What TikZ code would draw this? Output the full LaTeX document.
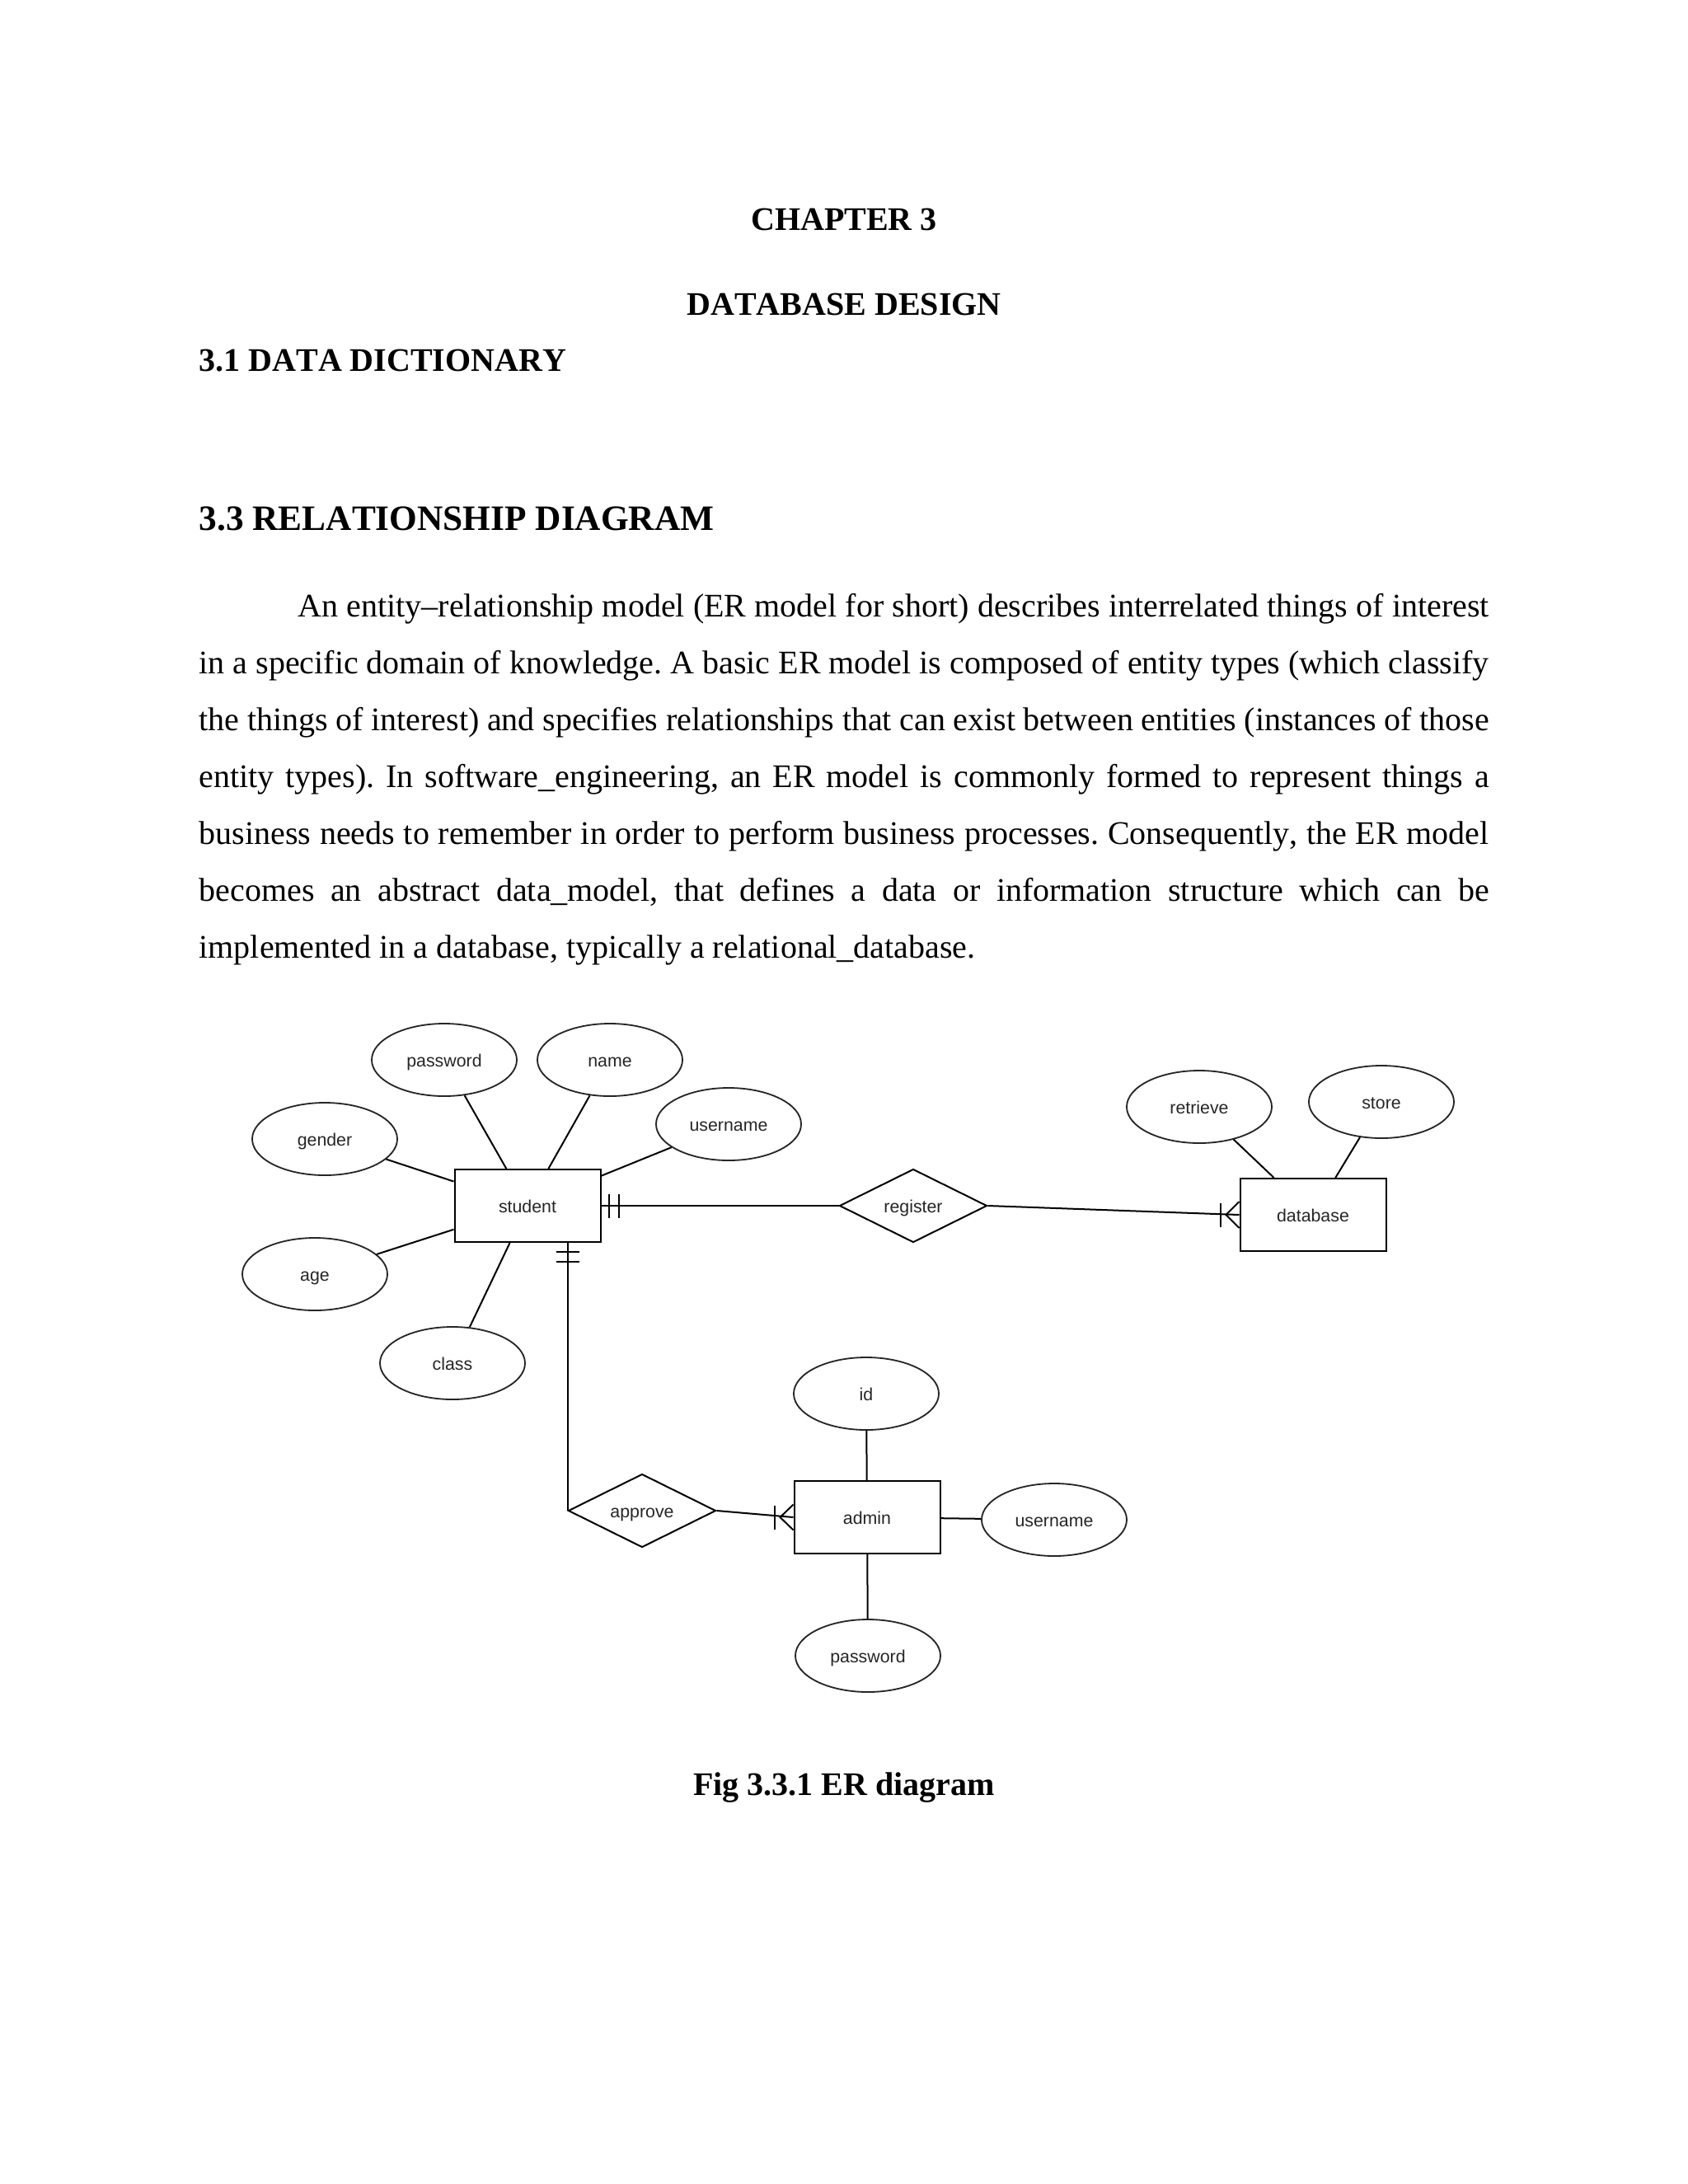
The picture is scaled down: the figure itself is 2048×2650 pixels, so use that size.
\documentclass[tikz,border=0pt]{standalone}
\usepackage{fontspec}
\setmainfont{Liberation Serif}[Kerning=Off]
\newfontfamily\diafont{Liberation Sans}
\usetikzlibrary{shapes.geometric,calc}
\frenchspacing
\begin{document}
\begin{tikzpicture}[x=0.3pt,y=-0.3pt,
  diatext/.style={font=\diafont\fontsize{6.4}{7.7}\selectfont,text=black!85,text height=5pt,text depth=0pt},
  attr/.style={ellipse,draw=black!85,line width=0.55pt,minimum width=52.8pt,minimum height=26.4pt,inner sep=0pt,diatext},
  ent/.style={rectangle,draw=black,line width=0.6pt,minimum width=53.1pt,minimum height=26.4pt,inner sep=0pt,diatext},
  rel/.style={diamond,aspect=2,draw=black,line width=0.6pt,minimum width=53.7pt,minimum height=26.7pt,inner sep=0pt,diatext},
  conn/.style={line width=0.6pt,draw=black},
  heading/.style={font=\bfseries\fontsize{12}{14}\selectfont,inner sep=0pt},
  body/.style={font=\fontsize{12}{14}\selectfont,inner sep=0pt,anchor=base west}
]
\useasboundingbox (0,0) rectangle (2048,2650);
\fill[white] (0,0) rectangle (2048,2650);

% headings
\node[heading,anchor=base] (ch) at (1024,279) {CHAPTER 3};
\node[heading,anchor=base] (dd) at (1024,382) {DATABASE DESIGN};
\node[heading,anchor=base west] (h31) at (241,450) {3.1 DATA DICTIONARY};
\node[heading,font=\bfseries\fontsize{13}{15}\selectfont,anchor=base west] (h33) at (241,643) {3.3 RELATIONSHIP DIAGRAM};

% body text
\node[body] (l1) at (361,748) {\makebox[433.5pt][s]{An entity–relationship model (ER model for short) describes interrelated things of interest}};
\node[body] (l2) at (241,817) {\makebox[469.5pt][s]{in a specific domain of knowledge. A basic ER model is composed of entity types (which classify}};
\node[body] (l3) at (241,886) {\makebox[469.5pt][s]{the things of interest) and specifies relationships that can exist between entities (instances of those}};
\node[body] (l4) at (241,955) {\makebox[469.5pt][s]{entity types). In software\_engineering, an ER model is commonly formed to represent things a}};
\node[body] (l5) at (241,1024) {\makebox[469.5pt][s]{business needs to remember in order to perform business processes. Consequently, the ER model}};
\node[body] (l6) at (241,1093) {\makebox[469.5pt][s]{becomes an abstract data\_model, that defines a data or information structure which can be}};
\node[body] (l7) at (241,1162) {implemented in a database, typically a relational\_database.};

% diagram nodes
\node[ent] (student) at (640,1463) {student};
\node[attr] (spass) at (539,1286) {password};
\node[attr] (sname) at (740,1286) {name};
\node[attr] (suser) at (884,1364) {username};
\node[attr] (gender) at (394,1382) {gender};
\node[attr] (age) at (382,1546) {age};
\node[attr] (class) at (549,1654) {class};
\node[rel] (register) at (1108,1463) {register};
\node[ent] (database) at (1593,1474) {database};
\node[attr] (retrieve) at (1455,1343) {retrieve};
\node[attr] (store) at (1676,1337) {store};
\node[ent] (admin) at (1052,1841) {admin};
\node[attr] (id) at (1051,1691) {id};
\node[rel] (approve) at (779,1833) {approve};
\node[attr] (auser) at (1279,1844) {username};
\node[attr] (apass) at (1053,2009) {password};

% attribute connectors
\draw[conn] (spass) -- (student);
\draw[conn] (sname) -- (student);
\draw[conn] (suser) -- (student);
\draw[conn] (gender) -- (student);
\draw[conn] (age) -- (student);
\draw[conn] (class) -- (student);
\draw[conn] (retrieve) -- (database);
\draw[conn] (store) -- (database);
\draw[conn] (id) -- (admin);
\draw[conn] (auser) -- (admin);
\draw[conn] (apass) -- (admin);

% relationships
\draw[conn] (student.east) -- (register.west);
\draw[conn] (register.east) -- (database.west);
\coordinate (sa) at (approve.west |- student.south);
\draw[conn] (sa) -- (approve.west);
\draw[conn] (approve.east) -- (admin.west);

% cardinality: student (one and only one) towards register
\draw[conn] ($(student.east)+(9,-14.5)$) -- ($(student.east)+(9,14.5)$);
\draw[conn] ($(student.east)+(21,-14.5)$) -- ($(student.east)+(21,14.5)$);
% student towards approve
\draw[conn] ($(sa)+(-14,11)$) -- ($(sa)+(14,11)$);
\draw[conn] ($(sa)+(-14,23)$) -- ($(sa)+(14,23)$);
% database: one or many
\draw[conn] ($(database.west)+(-22.5,-14.5)$) -- ($(database.west)+(-22.5,14.5)$);
\draw[conn] ($(database.west)+(0,-16)$) -- ($(database.west)+(-16,0)$) -- ($(database.west)+(0,16)$);
% admin: one or many
\draw[conn] ($(admin.west)+(-23,-14.5)$) -- ($(admin.west)+(-23,14.5)$);
\draw[conn] ($(admin.west)+(0,-15.5)$) -- ($(admin.west)+(-16,0)$) -- ($(admin.west)+(0,15.5)$);

% caption
\node[heading,anchor=base] (cap) at (1024,2178) {Fig 3.3.1 ER diagram};
\end{tikzpicture}
\end{document}
